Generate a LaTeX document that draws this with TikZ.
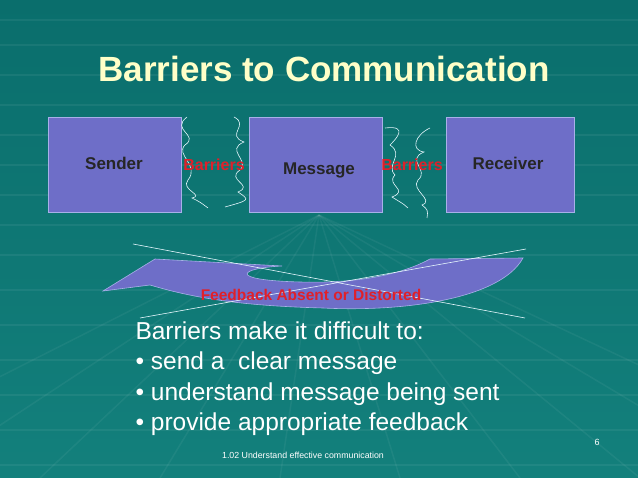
\documentclass[tikz,border=0pt]{standalone}
\usepackage{fontspec}
\setmainfont{Liberation Sans}
\definecolor{bgtop}{HTML}{0A6E6C}
\definecolor{bgbot}{HTML}{13807C}
\definecolor{boxfill}{HTML}{6E6EC8}
\definecolor{boxline}{HTML}{A8B0E8}
\definecolor{ttl}{HTML}{FFFFC8}
\definecolor{redtxt}{HTML}{E0202A}
\begin{document}
\begin{tikzpicture}[x=1pt,y=-1pt,
  box/.style={draw=boxline,fill=boxfill,line width=0.8pt},
  lbl/.style={font=\bfseries\fontsize{17}{19}\selectfont,text=black!85},
  barr/.style={font=\bfseries\fontsize{16}{18}\selectfont,text=redtxt},
  squig/.style={draw=white!90!cyan,line width=0.6pt},
  body/.style={font=\fontsize{24.5}{28}\selectfont,text=white,anchor=west}]
\shade[top color=bgtop,bottom color=bgbot] (0,0) rectangle (638,478);
\useasboundingbox (0,0) rectangle (638,478);
\foreach \y in {20,45,75,105,135,165,195,225,255,290,325,360,395,430,465}
  \draw[white,opacity=0.06,line width=1.5pt] (0,\y) -- (638,\y);
\foreach \x in {-200,-80,40,160,280,400,520,640,760,880}
  \draw[white,opacity=0.05,line width=1.5pt] (319,215) -- (\x,478);
% title
\node (title) [font=\bfseries\fontsize{35}{40}\selectfont,text=ttl] at (324,69) {Barriers to Communication};
% boxes
\node (sender) [box,minimum width=133,minimum height=95,anchor=north west] at (48,117) {};
\node (message) [box,minimum width=133,minimum height=95,anchor=north west] at (249,117) {};
\node (receiver) [box,minimum width=128,minimum height=95,anchor=north west] at (446,117) {};
\node[lbl] at (114,163) {Sender};
\node[lbl] at (319,170) {Message};
\node[lbl] at (508,163) {Receiver};
% squiggles
\draw[squig] (187,117) .. controls (170,130) and (200,135) .. (185,145) .. controls (175,155) and (200,165) .. (188,180) .. controls (180,190) and (205,195) .. (192,198) .. controls (200,202) .. (208,208);
\draw[squig] (234,117) .. controls (250,125) and (225,135) .. (244,142) .. controls (225,150) and (250,160) .. (240,170) .. controls (225,180) and (255,185) .. (238,192) .. controls (250,200) .. (225,207);
\draw[squig] (385,128) .. controls (410,125) and (395,140) .. (390,145) .. controls (405,155) and (385,165) .. (395,175) .. controls (385,185) and (410,190) .. (392,197) .. controls (405,205) .. (408,208);
\draw[squig] (430,128) .. controls (415,135) and (410,150) .. (424,152) .. controls (405,160) and (430,170) .. (418,180) .. controls (410,190) and (435,200) .. (422,205) .. controls (428,210) .. (427,218);
\node[barr] at (214,165) {Barriers};
\node[barr] at (412,165) {Barriers};
% feedback arrow
\draw[box,line width=0.6pt] (103,291) -- (155,259) -- (282,266)
  .. controls (240,268) and (225,280) .. (300,282)
  .. controls (370,284) and (410,270) .. (430,259) -- (523,258)
  .. controls (500,300) and (400,312) .. (323,308)
  .. controls (250,306) and (200,300) .. (150,285) -- cycle;
\coordinate (c1) at (133,244); \coordinate (c2) at (525,318);
\coordinate (c3) at (140,318); \coordinate (c4) at (526,249);
\draw[white!90!cyan,line width=0.6pt] (c1) -- (c2);
\draw[white!90!cyan,line width=0.6pt] (c3) -- (c4);
\node (fb) [font=\bfseries\fontsize{15.5}{17}\selectfont,text=redtxt] at (311,295) {Feedback Absent or Distorted};
% body
\node[body] at (132,331) {Barriers make it difficult to:};
\node[body] at (132,363) {\textbullet\ send a \ clear message};
\node[body] at (132,394) {\textbullet\ understand message being sent};
\node[body] at (132,424) {\textbullet\ provide appropriate feedback};
\node[font=\fontsize{8.8}{10}\selectfont,text=white!90] at (303,455) {1.02 Understand effective communication};
\node[font=\fontsize{9}{10}\selectfont,text=white!90] at (597,442) {6};
\end{tikzpicture}
\end{document}
